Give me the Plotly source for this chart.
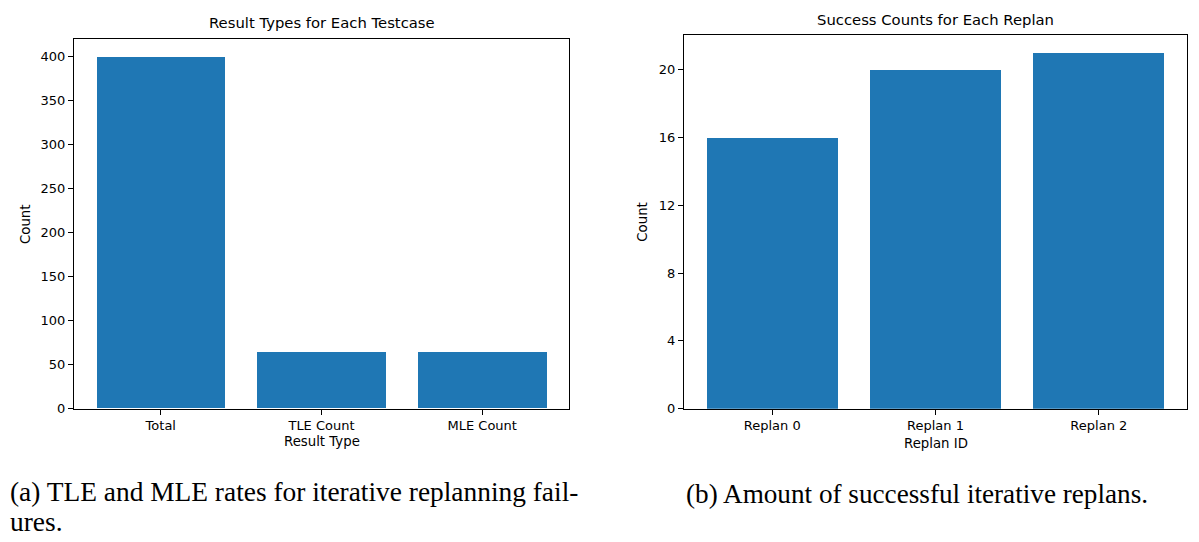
import plotly.graph_objects as go

# Data
result_types = ["Total", "TLE Count", "MLE Count"]
result_counts = [399, 64, 64]
replan_ids = ["Replan 0", "Replan 1", "Replan 2"]
replan_success = [16, 20, 21]
left_ticks = [0, 50, 100, 150, 200, 250, 300, 350, 400]
right_ticks = [0, 4, 8, 12, 16, 20]

W, H = 1199, 542      # reference pixel space
FIG_H = 550           # rendered height (page is captured slightly taller)
BLUE = "#1f77b4"
FONT = "DejaVu Sans"

fig = go.Figure()
fig.add_trace(go.Bar(x=list(range(len(result_types))), y=result_counts, width=0.8,
                     marker=dict(color=BLUE, line=dict(width=0)), xaxis="x", yaxis="y",
                     showlegend=False))
fig.add_trace(go.Bar(x=list(range(len(replan_ids))), y=replan_success, width=0.8,
                     marker=dict(color=BLUE, line=dict(width=0)), xaxis="x2", yaxis="y2",
                     showlegend=False))

def px_x(p):
    return p / W

def px_y(p):
    return 1 - p / H

axis_common = dict(showline=True, linecolor="black", linewidth=1, mirror=True,
                   ticks="outside", ticklen=5, tickwidth=1, tickcolor="black",
                   showgrid=False, zeroline=False,
                   tickfont=dict(family=FONT, size=13, color="black"))

lx0, lx1 = 74, 569
rx0, rx1 = 684, 1187
ly0, ly1 = 408.7, 39.3
ry0, ry1 = 408.7, 34.7
fig.update_layout(
    width=W, height=FIG_H,
    margin=dict(l=0, r=0, t=0, b=0),
    paper_bgcolor="white", plot_bgcolor="white",
    bargap=0,
    xaxis=dict(domain=[px_x(lx0), px_x(lx1)], range=[-0.54, 2.54],
               tickvals=list(range(len(result_types))), ticktext=result_types,
               anchor="y", **axis_common),
    yaxis=dict(domain=[px_y(ly0), px_y(ly1)], range=[0, max(result_counts) * 1.05],
               tickvals=left_ticks, anchor="x", **axis_common),
    xaxis2=dict(domain=[px_x(rx0), px_x(rx1)], range=[-0.54, 2.54],
                tickvals=list(range(len(replan_ids))), ticktext=replan_ids,
                anchor="y2", **axis_common),
    yaxis2=dict(domain=[px_y(ry0), px_y(ry1)], range=[0, max(replan_success) * 1.05],
                tickvals=right_ticks, anchor="x2", **axis_common),
)

def ann(text, x, y, size, family=FONT, xanchor="center", textangle=0, yanchor="middle"):
    fig.add_annotation(text=text, x=px_x(x), y=px_y(y), xref="paper", yref="paper",
                       showarrow=False, xanchor=xanchor, yanchor=yanchor,
                       textangle=textangle,
                       font=dict(family=family, size=size, color="black"))

# Titles
ann("Result Types for Each Testcase", (lx0 + lx1) / 2, 22, 14.8)
ann("Success Counts for Each Replan", (rx0 + rx1) / 2, 20, 14.8)
# Axis labels
ann("Result Type", (lx0 + lx1) / 2, 442, 13.3)
ann("Replan ID", (rx0 + rx1) / 2, 443, 13.3)
ann("Count", 26, (ly0 + ly1) / 2, 13.3, textangle=-90)
ann("Count", 643, (ry0 + ry1) / 2, 13.3, textangle=-90)

# Captions
SERIF = "Liberation Serif"
ann("(a) TLE and MLE rates for iterative replanning fail-", 8, 492, 27.4, family=SERIF, xanchor="left")
ann("ures.", 8, 522, 27.4, family=SERIF, xanchor="left")
ann("(b) Amount of successful iterative replans.", 684, 494, 27.2, family=SERIF, xanchor="left")

post = (
    "document.documentElement.style.margin='0';"
    "document.documentElement.style.padding='0';"
    "document.documentElement.style.overflow='hidden';"
    "document.body.style.margin='0';"
    "document.body.style.padding='0';"
    "document.body.style.overflow='hidden';"
)
fig.write_html("out.html", post_script=post, config={"displayModeBar": False})
